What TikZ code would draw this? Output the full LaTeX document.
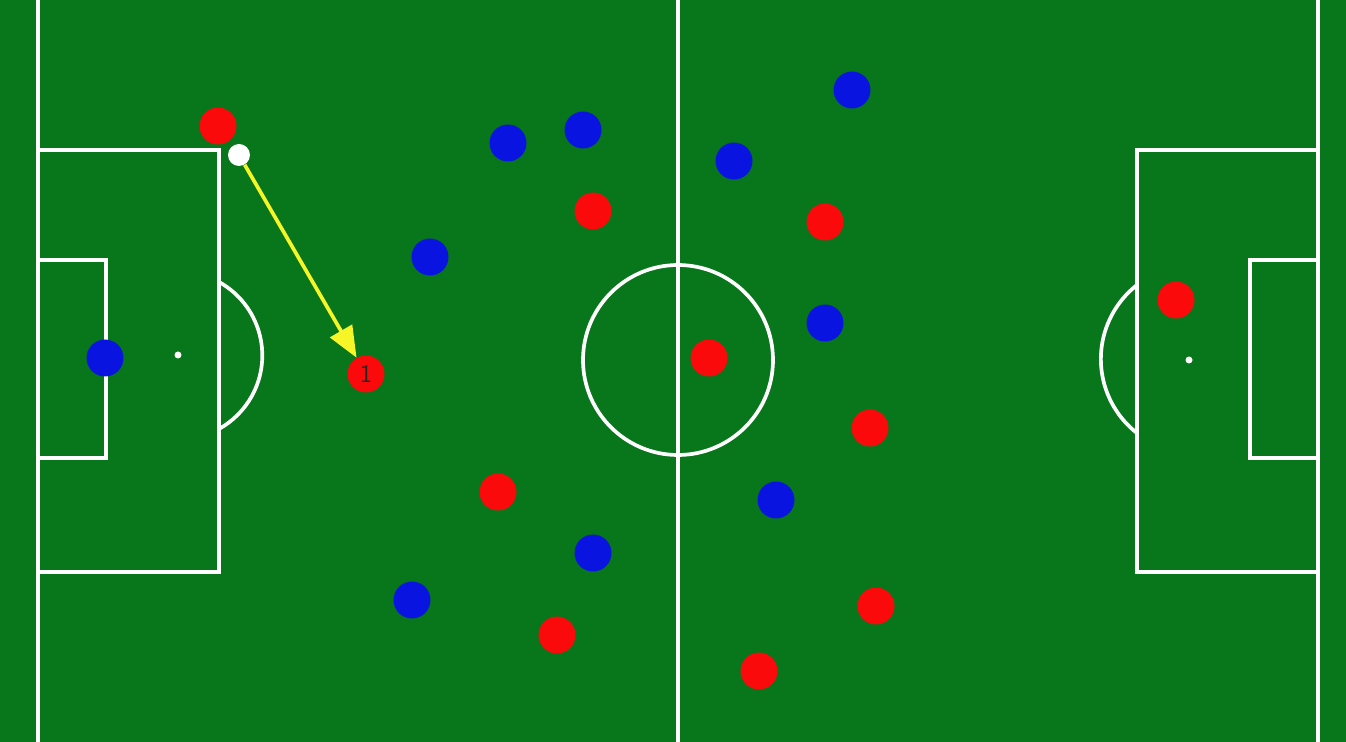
\documentclass[tikz,border=0pt]{standalone}
\usepackage{tikz}
\usetikzlibrary{arrows.meta}

\definecolor{pitch}{RGB}{8,118,26}
\definecolor{teamred}{RGB}{250,10,10}
\definecolor{teamblue}{RGB}{10,20,225}
\definecolor{passline}{RGB}{245,245,40}

\tikzset{
  line/.style={draw=white, line width=2.1pt},
  red player/.style={circle, fill=teamred, inner sep=0pt, minimum size=0.74cm},
  blue player/.style={circle, fill=teamblue, inner sep=0pt, minimum size=0.74cm},
  ball/.style={circle, fill=white, inner sep=0pt, minimum size=0.44cm},
}

\begin{document}
\begin{tikzpicture}[x=0.02cm, y=-0.02cm]
\fill[pitch] (0,0) rectangle (1346,742);
\useasboundingbox (0,0) rectangle (1346,742);

% pitch markings
\draw[line] (38,0) -- (38,742);
\draw[line] (1318,0) -- (1318,742);
\draw[line] (678,0) -- (678,742);
\draw[line] (678,360) circle (95);

\draw[line] (38,150) -- (219,150) -- (219,572) -- (38,572);
\draw[line] (38,260) -- (106,260) -- (106,458) -- (38,458);
\fill[white] (178,355) circle (3.5);
\draw[line] (219,282) arc[start angle=-61, end angle=61, radius=84];

\draw[line] (1318,150) -- (1137,150) -- (1137,572) -- (1318,572);
\draw[line] (1318,260) -- (1250,260) -- (1250,458) -- (1318,458);
\fill[white] (1189,360) circle (3.5);
\draw[line] (1137,285) arc[start angle=232, end angle=128, radius=94];

% red team
\node (red1) [red player] at (218,126) {};
\node (red2) [red player] at (593,211) {};
\node (receiver) [red player, font=\sffamily\Large, text=black!85] at (366,374) {1};
\node (red4) [red player] at (498,492) {};
\node (red5) [red player] at (557,635) {};
\node (red6) [red player] at (825,222) {};
\node (red7) [red player] at (709,358) {};
\node (red8) [red player] at (870,428) {};
\node (red9) [red player] at (876,606) {};
\node (red10) [red player] at (759,671) {};
\node (redkeeper) [red player] at (1176,300) {};

% blue team
\node (blue1) [blue player] at (508,143) {};
\node (blue2) [blue player] at (583,130) {};
\node (blue3) [blue player] at (430,257) {};
\node (bluekeeper) [blue player] at (105,358) {};
\node (blue5) [blue player] at (412,600) {};
\node (blue6) [blue player] at (593,553) {};
\node (blue7) [blue player] at (852,90) {};
\node (blue8) [blue player] at (734,161) {};
\node (blue9) [blue player] at (825,323) {};
\node (blue10) [blue player] at (776,500) {};

% ball and pass
\node (ball) [ball] at (239,155) {};
\draw[passline, line width=2.1pt, -{Triangle[length=0.62cm, width=0.5cm]}] (ball) -- (receiver);

\end{tikzpicture}
\end{document}
